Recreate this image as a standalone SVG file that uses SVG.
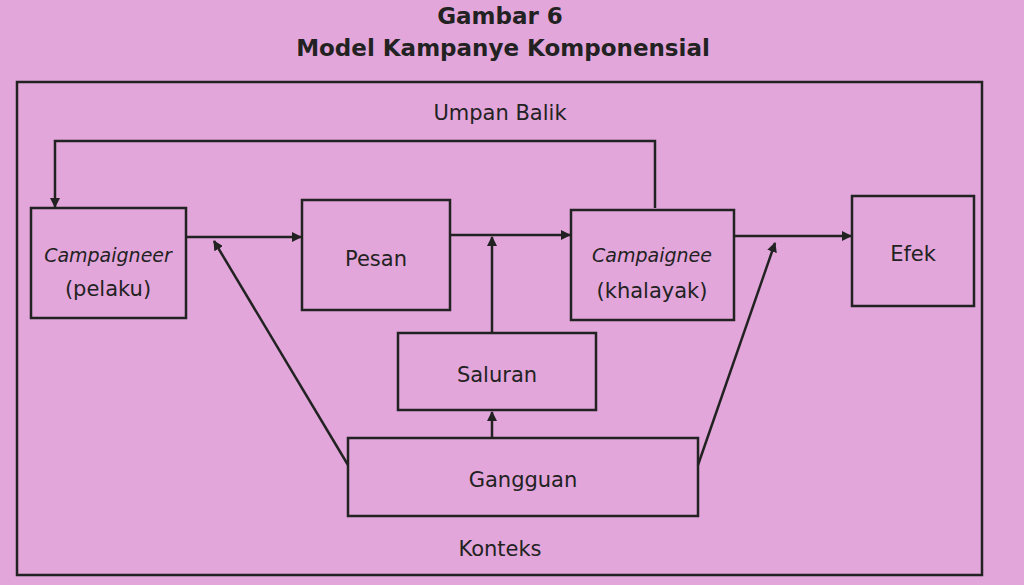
<svg xmlns="http://www.w3.org/2000/svg" width="1024" height="585" viewBox="0 0 1024 585">
<style>
.b{fill:none;stroke:#222;stroke-width:2.5}
.l{fill:none;stroke:#222;stroke-width:2.5}
text{font-family:"DejaVu Sans","Liberation Sans",sans-serif;fill:#222;font-size:21px;text-anchor:middle}
.i{font-style:italic;font-size:19px}
.t{font-weight:bold;font-size:23px}
</style>
<defs><marker id="a" markerWidth="10" markerHeight="10" refX="9" refY="5" orient="auto" markerUnits="userSpaceOnUse"><path d="M0,0L10,5L0,10z" fill="#222"/></marker></defs>
<rect width="1024" height="585" fill="#e2a6da"/>
<text class="t" x="500" y="24">Gambar 6</text>
<text class="t" x="503" y="56">Model Kampanye Komponensial</text>
<rect class="b" x="17" y="82" width="965" height="493"/>
<text x="500" y="120">Umpan Balik</text>
<text x="500" y="556">Konteks</text>
<g id="campaigneer"><rect class="b" x="31" y="208" width="155" height="110"/><text class="i" x="108" y="262">Campaigneer</text><text x="108" y="296" font-size="19">(pelaku)</text></g>
<g id="pesan"><rect class="b" x="302" y="200" width="148" height="110"/><text x="376" y="266">Pesan</text></g>
<g id="campaignee"><rect class="b" x="571" y="210" width="163" height="110"/><text class="i" x="652" y="262">Campaignee</text><text x="652" y="298" font-size="19">(khalayak)</text></g>
<g id="efek"><rect class="b" x="852" y="196" width="122" height="110"/><text x="913" y="261">Efek</text></g>
<g id="saluran"><rect class="b" x="398" y="333" width="198" height="77"/><text x="497" y="382">Saluran</text></g>
<g id="gangguan"><rect class="b" x="348" y="438" width="350" height="78"/><text x="523" y="487">Gangguan</text></g>
<g id="connectors">
<path class="l" d="M655,208V141H55V207" marker-end="url(#a)"/>
<path class="l" d="M186,237H301" marker-end="url(#a)"/>
<path class="l" d="M450,235H570" marker-end="url(#a)"/>
<path class="l" d="M734,236H851" marker-end="url(#a)"/>
<path class="l" d="M492,333V237" marker-end="url(#a)"/>
<path class="l" d="M492,438V412" marker-end="url(#a)"/>
<path class="l" d="M348,465L214,241" marker-end="url(#a)"/>
<path class="l" d="M698,465L775,243" marker-end="url(#a)"/>
</g>
</svg>
